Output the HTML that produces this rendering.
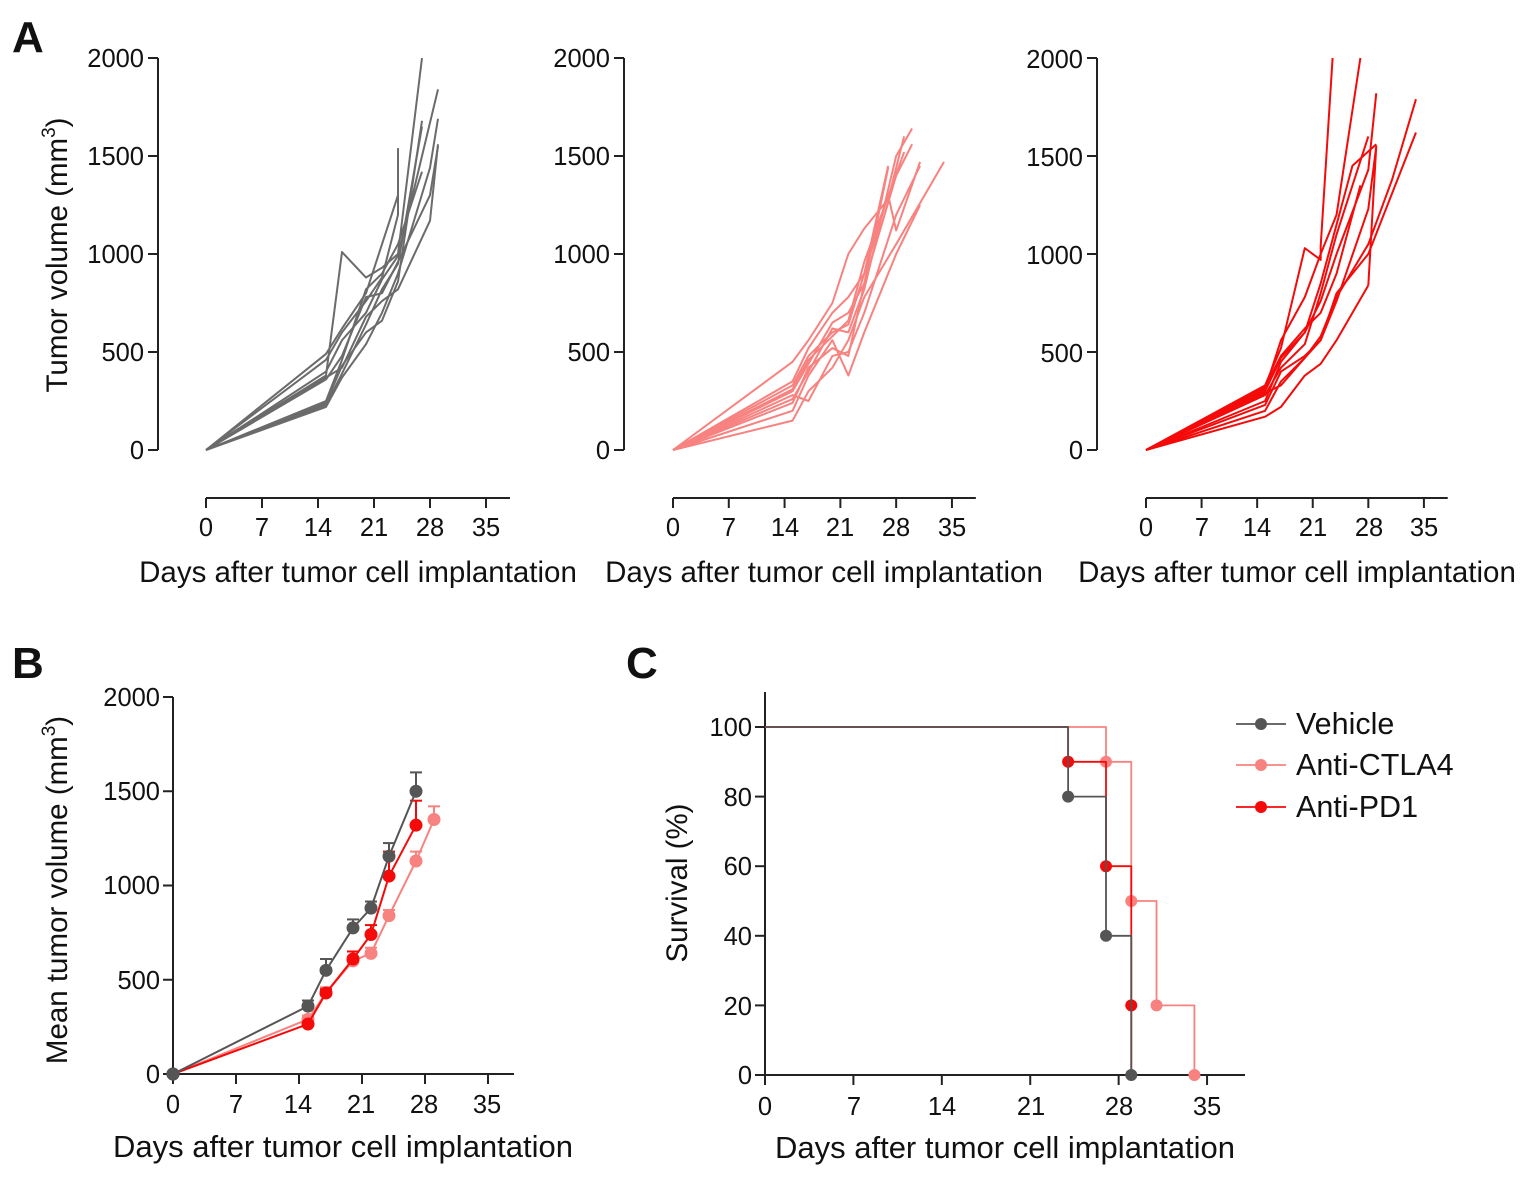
<!DOCTYPE html><html><head><meta charset="utf-8"><style>
body{margin:0;background:#fff}
svg{display:block}
text{font-family:"Liberation Sans",Arial,sans-serif;fill:#111}
.t{font-size:25.5px}
.ti{font-size:29.5px}
.tb{font-size:31px}
.lg{font-size:30.5px}
.L{font-size:44px;font-weight:bold}
</style></head><body>
<svg id="s" width="1536" height="1184" viewBox="0 0 1536 1184" xmlns="http://www.w3.org/2000/svg">
<g id="g"></g>
<text class="L" x="12" y="52">A</text>
<text class="L" x="12" y="678">B</text>
<text class="L" x="626" y="678">C</text>
<g class="t" text-anchor="end">
<text x="144" y="67">2000</text><text x="144" y="165">1500</text><text x="144" y="263">1000</text><text x="144" y="361">500</text><text x="144" y="459">0</text>
<text x="610" y="67">2000</text><text x="610" y="165">1500</text><text x="610" y="263">1000</text><text x="610" y="361">500</text><text x="610" y="459">0</text>
<text x="1083" y="68">2000</text><text x="1083" y="166">1500</text><text x="1083" y="264">1000</text><text x="1083" y="362">500</text><text x="1083" y="459">0</text>
<text x="160" y="706">2000</text><text x="160" y="800">1500</text><text x="160" y="894">1000</text><text x="160" y="989">500</text><text x="160" y="1083">0</text>
<text x="752" y="736">100</text><text x="752" y="806">80</text><text x="752" y="875">60</text><text x="752" y="945">40</text><text x="752" y="1015">20</text><text x="752" y="1084">0</text>
</g>
<g class="t" text-anchor="middle">
<text x="206" y="536">0</text><text x="262" y="536">7</text><text x="318" y="536">14</text><text x="374" y="536">21</text><text x="430" y="536">28</text><text x="486" y="536">35</text>
<text x="673" y="536">0</text><text x="729" y="536">7</text><text x="785" y="536">14</text><text x="840" y="536">21</text><text x="896" y="536">28</text><text x="952" y="536">35</text>
<text x="1146" y="536">0</text><text x="1202" y="536">7</text><text x="1257" y="536">14</text><text x="1313" y="536">21</text><text x="1369" y="536">28</text><text x="1424" y="536">35</text>
<text x="173" y="1113">0</text><text x="236" y="1113">7</text><text x="298" y="1113">14</text><text x="361" y="1113">21</text><text x="424" y="1113">28</text><text x="487" y="1113">35</text>
<text x="765" y="1115">0</text><text x="854" y="1115">7</text><text x="942" y="1115">14</text><text x="1031" y="1115">21</text><text x="1119" y="1115">28</text><text x="1207" y="1115">35</text>
</g>
<g class="ti" text-anchor="middle">
<text x="358" y="582">Days after tumor cell implantation</text>
<text x="824" y="582">Days after tumor cell implantation</text>
<text x="1297" y="582">Days after tumor cell implantation</text>
<text class="tb" x="343" y="1157">Days after tumor cell implantation</text>
<text class="tb" x="1005" y="1158">Days after tumor cell implantation</text>
<text transform="translate(67,255) rotate(-90)">Tumor volume (mm<tspan font-size="19" dy="-12">3</tspan><tspan dy="12">)</tspan></text>
<text transform="translate(67,890) rotate(-90)">Mean tumor volume (mm<tspan font-size="19" dy="-12">3</tspan><tspan dy="12">)</tspan></text>
<text transform="translate(687,883) rotate(-90)">Survival (%)</text>
</g>
<g class="lg">
<text x="1296" y="734">Vehicle</text>
<text x="1296" y="775">Anti-CTLA4</text>
<text x="1296" y="817">Anti-PD1</text>
</g>
</svg>
<script>
var g=document.getElementById('g'),NS='http://www.w3.org/2000/svg';
function el(n,a){var e=document.createElementNS(NS,n);for(var k in a)e.setAttribute(k,a[k]);g.appendChild(e);return e}
function line(x1,y1,x2,y2,c,w){el('line',{x1:x1,y1:y1,x2:x2,y2:y2,stroke:c||'#222','stroke-width':w||2})}
function poly(pts,c,w){el('polyline',{points:pts.map(p=>p.join(',')).join(' '),fill:'none',stroke:c,'stroke-width':w||2,'stroke-linejoin':'round'})}
var K='#222';
function panelA(ax,x0,sx,data,col){
  line(ax,58,ax,450,K);
  for(var i=0;i<5;i++){var y=58+98*i;line(ax-10,y,ax,y,K)}
  line(x0,498,x0+38*sx,498,K);
  for(var d=0;d<=35;d+=7){line(x0+d*sx,498,x0+d*sx,508,K)}
  data.forEach(function(s){poly(s.map(p=>[x0+p[0]*sx,450-p[1]*98/500]),col,2)});
}
var veh=[
[[0,0],[15,380],[17,1010],[20,880],[22,930],[24,1000],[27,2000]],
[[0,0],[15,490],[17,620],[20,800],[22,1050],[24,1300],[24,1540]],
[[0,0],[15,460],[17,600],[20,760],[22,880],[24,1200],[24,1460]],
[[0,0],[15,400],[17,560],[20,700],[22,870],[24,990],[29,1840]],
[[0,0],[15,230],[17,390],[20,640],[22,820],[24,950],[27,1650]],
[[0,0],[15,220],[17,370],[20,540],[22,700],[24,900],[28,1440],[29,1690]],
[[0,0],[15,360],[17,480],[20,780],[22,800],[24,960],[28,1300],[29,1550]],
[[0,0],[15,370],[17,420],[20,680],[22,760],[24,820],[28,1170],[29,1560]],
[[0,0],[15,240],[17,430],[20,600],[22,660],[24,860],[27,1680]],
[[0,0],[15,250],[17,460],[20,820],[22,900],[24,1050],[27,1420]]];
var ctl=[
[[0,0],[15,450],[17,560],[20,750],[22,1000],[24,1130],[27,1280],[29,1600]],
[[0,0],[15,350],[17,520],[20,700],[22,780],[24,900],[27,1450]],
[[0,0],[15,300],[17,440],[20,650],[22,700],[24,850],[28,1400],[30,1560]],
[[0,0],[15,260],[17,400],[20,620],[22,600],[24,820],[28,1500],[30,1640]],
[[0,0],[15,200],[17,380],[20,560],[22,380],[24,600],[28,1000],[31,1250]],
[[0,0],[15,150],[17,300],[20,420],[22,560],[24,780],[28,1050],[34,1470]],
[[0,0],[15,280],[17,250],[20,480],[22,500],[24,700],[28,1200],[31,1450]],
[[0,0],[15,330],[17,480],[20,600],[22,640],[24,900],[27,1300],[28,1120],[31,1470]],
[[0,0],[15,240],[17,420],[20,520],[22,480],[24,850],[27,1440]],
[[0,0],[15,310],[17,460],[20,580],[22,660],[24,960],[29,1520]]];
var pd=[
[[0,0],[15,330],[17,520],[20,1030],[22,970],[22,1040],[23.5,2000]],
[[0,0],[15,310],[17,560],[20,780],[22,1000],[24,1200],[27,2000]],
[[0,0],[15,300],[17,470],[20,600],[22,760],[24,1000],[28,1430],[29,1820]],
[[0,0],[15,280],[17,420],[20,540],[22,800],[24,1100],[28,1600]],
[[0,0],[15,250],[17,450],[20,600],[22,850],[26,1450],[29,1560]],
[[0,0],[15,230],[17,400],[20,480],[22,560],[24,760],[28,1230],[29,1550],[28,840]],
[[0,0],[15,170],[17,220],[20,380],[22,440],[24,560],[28,840]],
[[0,0],[15,200],[17,350],[20,470],[22,580],[24,780],[28,1050],[31,1380],[34,1790]],
[[0,0],[15,290],[17,330],[20,470],[22,560],[24,800],[28,1000],[34,1620]],
[[0,0],[15,320],[17,480],[20,620],[22,700],[24,900],[27,1350]]];
panelA(158,206,8,veh,'#6b6b6b');
panelA(624,673,7.97,ctl,'#f7827f');
panelA(1097,1146,7.94,pd,'#f50a0a');
line(173,697,173,1074,K);for(var i=0;i<5;i++){var y=697+94.25*i;line(163,y,173,y,K)}
line(173,1074,514,1074,K);for(var d=0;d<=35;d+=7){line(173+d*9,1074,173+d*9,1084,K)}
function B(pts,c,r){var P=pts.map(p=>[173+p[0]*9,1074-p[1]*0.1885,1074-(p[1]+p[2])*0.1885]);
 P.forEach(p=>{if(p[2]<p[1]){line(p[0],p[1],p[0],p[2],c,2);line(p[0]-6,p[2],p[0]+6,p[2],c,2)}});
 poly([[173,1074]].concat(P.map(p=>[p[0],p[1]])),c,2);
 P.forEach(p=>el('circle',{cx:p[0],cy:p[1],r:r,fill:c}));el('circle',{cx:173,cy:1074,r:r,fill:'#555'})}
B([[15,290,20],[17,430,30],[20,600,50],[22,640,30],[24,840,30],[27,1130,50],[29,1350,70]],'#f7827f',6.5);
B([[15,265,0],[17,430,20],[20,610,40],[22,740,50],[24,1050,130],[27,1320,130]],'#f50a0a',6.5);
B([[15,360,30],[17,550,60],[20,775,45],[22,880,35],[24,1155,70],[27,1500,100]],'#555',6.5);
line(765,692,765,1075,K);for(var i=0;i<=5;i++){var y=1075-69.6*i;line(755,y,765,y,K)}
line(765,1075,1245,1075,K);for(var d=0;d<=35;d+=7){line(765+d*12.63,1075,765+d*12.63,1085,K)}
function X(d){return 765+d*12.63}function Y(v){return 1075-v*3.48}
function C(steps,marks,c){var p=[[X(0),Y(100)]],v=100;steps.forEach(s=>{p.push([X(s[0]),Y(v)]);p.push([X(s[0]),Y(s[1])]);v=s[1]});
 poly(p,c,1.8);marks.forEach(m=>el('circle',{cx:X(m[0]),cy:Y(m[1]),r:6,fill:c}))}
C([[27,90],[29,50],[31,20],[34,0]],[[27,90],[29,50],[31,20],[34,0]],'#f7827f');
C([[24,90],[27,60],[29,20],[29,0]],[[24,90],[27,60],[29,20]],'#f50a0a');
C([[24,80],[27,40],[29,0]],[[24,80],[27,40],[29,0]],'#555');
[['#555',724],['#f7827f',765],['#f50a0a',807]].forEach(function(a){line(1236,a[1],1286,a[1],a[0],1.8);el('circle',{cx:1261,cy:a[1],r:6,fill:a[0]})});
</script>
</body></html>
